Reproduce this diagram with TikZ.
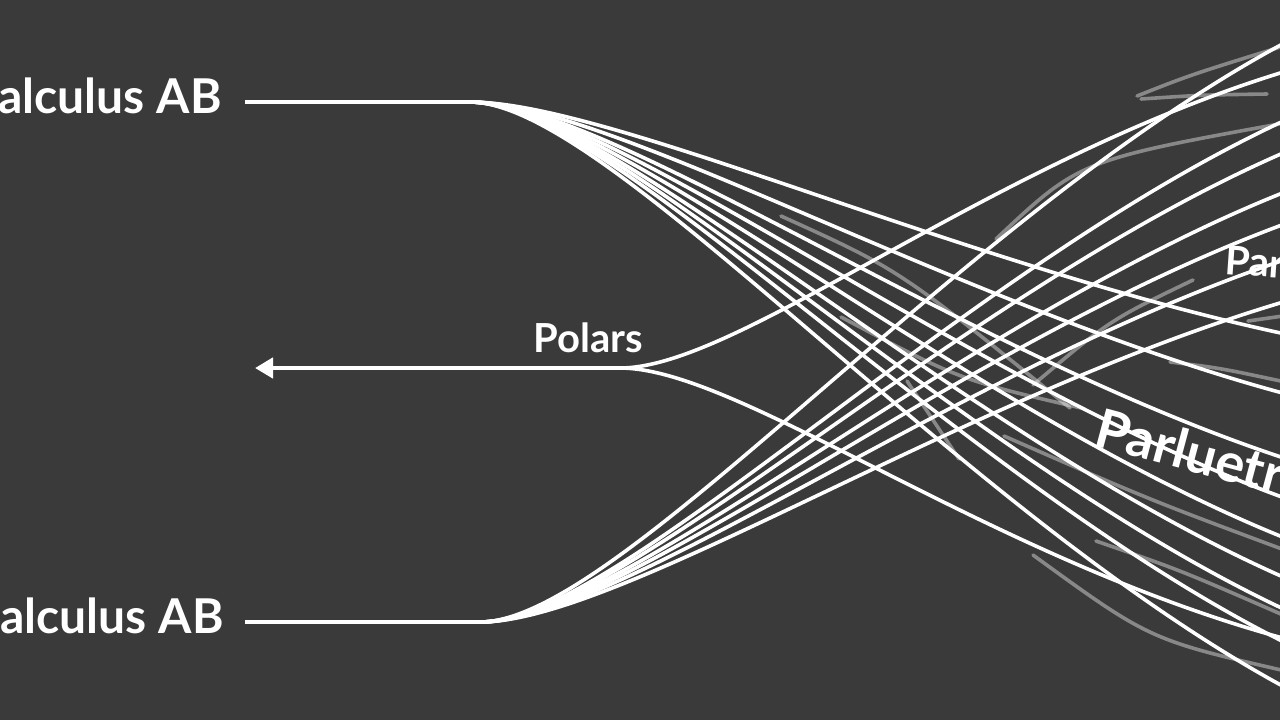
\documentclass[tikz,border=0pt]{standalone}
\usepackage{fontspec}
\setmainfont{Lato}
\usetikzlibrary{arrows.meta}
\definecolor{board}{HTML}{3A3A3A}
\tikzstyle{strand}=[draw=white, line width=1.8pt, line cap=round]
\tikzstyle{stem}=[draw=white, line width=2.4pt]
\tikzstyle{haze}=[draw=white, opacity=0.4, line width=1.8pt, line cap=round]
\tikzstyle{title}=[text=white, inner sep=0pt, font=\bfseries\fontsize{24}{29}\selectfont]
\tikzstyle{tag}=[text=white, inner sep=0pt, font=\bfseries\fontsize{20}{24}\selectfont]
\tikzstyle{sidetag}=[text=white, inner sep=0pt, font=\bfseries\fontsize{27}{32}\selectfont]

\begin{document}
\begin{tikzpicture}[x=0.5pt, y=-0.5pt]
	\useasboundingbox (0,0) rectangle (1280,720);
	\fill[board] (0,0) rectangle (1280,720);
	\clip (0,0) rectangle (1280,720);
	
	%The source labels
	\node[title, anchor=base east] (calcTop) at (222,113) {alculus AB};
	\node[title, anchor=base east] (calcBot) at (224,633) {alculus AB};
	\node[tag] (polars) at (588,338) {Polars};
	
	%The stems
	\coordinate (tS) at (245,102);
	\coordinate (tA) at (470,102);
	\coordinate (bS) at (245,622);
	\coordinate (bA) at (480,622);
	\coordinate (pE) at (255,368);
	\coordinate (pA) at (620,368);
	
	\draw[stem] (tS) -- (tA);
	\draw[stem] (bS) -- (bA);
	\draw[stem, -{Triangle[length=9pt, width=10pt]}] (pA) -- (pE);
	
	%The faint strokes
	\draw[haze] (1137,96) .. controls (1190,75) .. (1290,44);
	\draw[haze] (1141,99) .. controls (1200,95) .. (1267,94);
	\draw[haze] (996,239) .. controls (1080,160) .. (1290,122);
	\draw[haze] (781,216) .. controls (900,270) .. (1070,408);
	\draw[haze] (841,317) .. controls (960,380) .. (1081,408);
	\draw[haze] (1033,385) .. controls (1110,320) .. (1193,280);
	\draw[haze] (1248,321) -- (1290,315);
	\draw[haze] (1170,362) .. controls (1220,368) .. (1290,383);
	\draw[haze] (1004,436) .. controls (1150,500) .. (1290,552);
	\draw[haze] (1096,541) .. controls (1180,570) .. (1290,618);
	\draw[haze] (1033,555) .. controls (1150,640) .. (1290,672);
	\draw[haze] (907,381) -- (959,459);
	
	%The top fan
	\foreach \ey in {335,395,460,500,540,580,612,645,690}
		\draw[strand] (tA) .. controls +(140,0) and +(-330,{-0.3*(\ey-102)}) .. (1290,\ey);
	
	%The bottom fan
	\foreach \ey in {40,118,150,190,222,258,300}
		\draw[strand] (bA) .. controls +(140,0) and +(-330,{0.3*(622-\ey)}) .. (1290,\ey);
	
	%The middle branches
	\draw[strand] (pA) .. controls +(120,0) and +(-300,90) .. (1290,70);
	\draw[strand] (pA) .. controls +(120,0) and +(-300,-80) .. (1290,640);
	
	%The right labels
	\node[tag, rotate=-4, anchor=base west] (parTop) at (1224,274) {Par};
	\node[sidetag, rotate=-15, anchor=base west] (parSide) at (1092,445) {Parluetr};
\end{tikzpicture}
\end{document}
